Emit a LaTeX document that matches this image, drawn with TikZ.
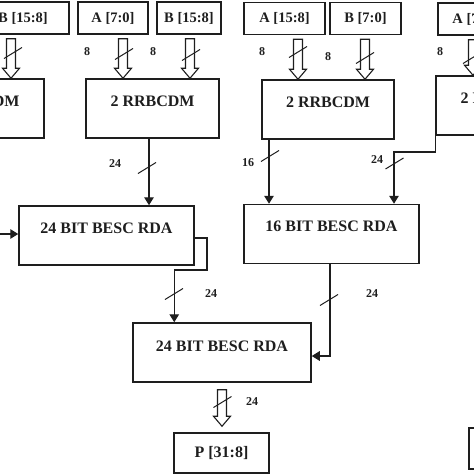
\documentclass[tikz,border=0pt]{standalone}
\usepackage{fontspec}
\setmainfont{Liberation Serif}
\usetikzlibrary{arrows.meta,calc}
\definecolor{ink}{HTML}{1E1E1E}
\newcommand\hollowarrow[2]{%
  \draw[hol] let \p1=(#1), \p2=(#2) in
    (\x1-4.5pt,\y1) -- (\x1-4.5pt,\y2+10pt) -- (\x1-8.5pt,\y2+10pt) -- (\x1,\y2)
    -- (\x1+8.5pt,\y2+10pt) -- (\x1+4.5pt,\y2+10pt) -- (\x1+4.5pt,\y1) -- cycle;}
\newcommand\tickmark[1]{\draw[ink,line width=1pt] ($(#1)+(-9,5.5)$) -- ($(#1)+(9,-5.5)$);}
\begin{document}
\begin{tikzpicture}[x=1pt,y=-1pt,
  box/.style={draw=ink,line width=1.5pt,inner sep=0pt,text=ink,
    font=\fontsize{16}{16}\selectfont\bfseries},
  topbox/.style={box,minimum height=32pt,font=\fontsize{14.5}{14.5}\selectfont\bfseries},
  bigbox/.style={box,minimum height=59pt,text height=11pt,text depth=16pt},
  lbl/.style={inner sep=0pt,text=ink,font=\fontsize{12}{12}\selectfont\bfseries},
  wire/.style={draw=ink,line width=1.4pt,-{Triangle[length=8pt,width=9.5pt]}},
  hol/.style={draw=ink,line width=1.1pt,fill=white},
]
\clip (0,0) rectangle (474,474);
% top input boxes
\node[topbox,minimum width=99pt] (t1) at (19.5,18) {\hspace*{7pt}B [15:8]};
\node[topbox,minimum width=70pt] (t2) at (113,18) {A [7:0]};
\node[topbox,minimum width=64pt] (t3) at (189,18) {B [15:8]};
\node[topbox,minimum width=81pt] (t4) at (284.5,18.5) {A [15:8]};
\node[topbox,minimum width=71pt] (t5) at (365.5,18.5) {B [7:0]};
\node[topbox,minimum width=72pt] (t6) at (474,19) {A [7:0]};
% multiplier boxes
\node[bigbox,minimum width=133pt] (r1) at (-22.5,108.5) {2 RRBCDM};
\node[bigbox,minimum width=133pt] (r2) at (152.5,108.5) {2 RRBCDM};
\node[bigbox,minimum width=132pt] (r3) at (328,109.5) {2 RRBCDM};
\node[bigbox,minimum width=133pt] (r4) at (502.5,105.5) {2 RRBCDM};
% adders
\node[bigbox,minimum width=175pt] (l24) at (106.5,235.5) {24 BIT BESC RDA};
\node[bigbox,minimum width=175pt] (s16) at (331.5,234) {16 BIT BESC RDA};
\node[bigbox,minimum width=178pt,text depth=13pt] (b24) at (222,352.5) {24 BIT BESC RDA};
% outputs
\node[box,minimum width=95pt,minimum height=40pt] (p) at (221.5,453) {P [31:8]};
\node[box,minimum width=102pt,minimum height=41pt] (pr) at (520,448.5) {};
% hollow bus arrows
\hollowarrow{$(t1.south)+(-8.5,4)$}{r1.north}
\hollowarrow{$(t2.south)+(10,4)$}{r2.north}
\hollowarrow{$(t3.south)+(1,4)$}{r2.north}
\hollowarrow{$(t4.south)+(13.5,4)$}{r3.north}
\hollowarrow{$(t5.south)+(-0.5,4)$}{r3.north}
\hollowarrow{$(t6.south)+(-1,4)$}{r4.north}
\hollowarrow{$(b24.south)+(0,7)$}{$(p.north)+(0,-6)$}
\coordinate (s1) at (13,53); \tickmark{s1}
\coordinate (s2) at (124,54); \tickmark{s2}
\coordinate (s3) at (191,55); \tickmark{s3}
\coordinate (s4) at (298,52); \tickmark{s4}
\coordinate (s5) at (365,58); \tickmark{s5}
\coordinate (s6) at (472,58); \tickmark{s6}
\coordinate (s7) at (222.5,402); \tickmark{s7}
\node[lbl] (n1) at (87,52) {8};
\node[lbl] (n2) at (153,52) {8};
\node[lbl] (n3) at (262,52) {8};
\node[lbl] (n4) at (328,57) {8};
\node[lbl] (n5) at (440,52) {8};
\node[lbl] (n6) at (252,402) {24};
% wires
\coordinate (w1) at ([xshift=-3.5pt]r2.south);
\draw[wire] (w1) -- (w1 |- l24.north);
\coordinate (w2) at ([xshift=-59pt]r3.south);
\draw[wire] (w2) -- (w2 |- s16.north);
\coordinate (w3) at (394,152);
\draw[wire] (r4.south west) |- (w3) -- (w3 |- s16.north);
\coordinate (lin) at (-5,234);
\draw[wire] (lin) -- (lin -| l24.west);
\coordinate (k1) at (207,270);
\coordinate (k2) at ($(b24.north west)+(42,0)$);
\draw[wire] ([yshift=-2.5pt]l24.east) -| (k1) -| (k2);
\coordinate (k3) at ([xshift=-1.5pt]s16.south);
\coordinate (k4) at ([yshift=-3.5pt]b24.east);
\draw[wire] (k3) |- (k4);
\coordinate (s8) at (147,168); \tickmark{s8}
\coordinate (s9) at (270,156); \tickmark{s9}
\coordinate (s10) at (394.5,163.5); \tickmark{s10}
\coordinate (s11) at (174,294); \tickmark{s11}
\coordinate (s12) at (329,300); \tickmark{s12}
\node[lbl] (m1) at (115,164) {24};
\node[lbl] (m2) at (248,163) {16};
\node[lbl] (m3) at (377,160) {24};
\node[lbl] (m4) at (211,294) {24};
\node[lbl] (m5) at (372,294) {24};
\end{tikzpicture}
\end{document}
